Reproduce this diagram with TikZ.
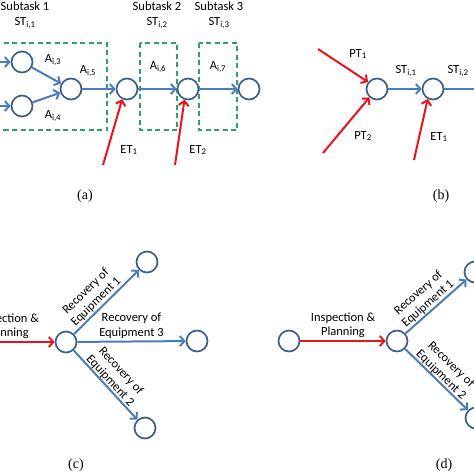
\documentclass[tikz,border=0pt]{standalone}
\usepackage{fontspec}
\setmainfont{Carlito}
\newfontfamily\capfont{Liberation Serif}
\usetikzlibrary{arrows.meta}
\definecolor{cdark}{HTML}{3B5E8C}
\definecolor{cblue}{HTML}{4A7EBB}
\definecolor{cred}{HTML}{E8141B}
\definecolor{cgreen}{HTML}{2EA06A}
\tikzset{
  circ/.style={circle, draw=cdark, line width=1.7pt, minimum size=21pt, inner sep=0pt, fill=white},
  barrow/.style={draw=cblue, line width=2pt, -{Straight Barb[length=4.5pt,width=10pt]}},
  rarrow/.style={draw=cred, line width=2pt, -{Straight Barb[length=4.5pt,width=10pt]}},
  bline/.style={draw=cblue, line width=2pt},
  dbox/.style={draw=cgreen, line width=1.4pt, dash pattern=on 5pt off 3.5pt},
  lbl/.style={font=\fontsize{12.5}{14.5}\selectfont, inner sep=1.5pt},
  captxt/.style={font=\capfont\fontsize{14}{16}\selectfont, inner sep=0pt}
}
\begin{document}
\begin{tikzpicture}[x=1pt,y=-1pt]
\useasboundingbox (0,0) rectangle (474,474);
% ---------- (a) ----------
\draw[dbox] (-20,43) rectangle (107,130);
\draw[dbox] (140,43) rectangle (177,130);
\draw[dbox] (199,43) rectangle (237,130);
\node[circ] (a1) at (22,62) {};
\node[circ] (a2) at (22,106) {};
\node[circ] (a3) at (71,89) {};
\node[circ] (a4) at (127,89) {};
\node[circ] (a5) at (188,89) {};
\node[circ] (a6) at (249,89) {};
\coordinate (ain1) at (-20,62);
\coordinate (ain2) at (-20,106);
\draw[barrow] (ain1) -- (a1);
\draw[barrow] (ain2) -- (a2);
\draw[barrow] (a1) -- (a3);
\draw[barrow] (a2) -- (a3);
\draw[barrow] (a3) -- (a4);
\draw[barrow] (a4) -- (a5);
\draw[barrow] (a5) -- (a6);
\coordinate (et1) at (103,165);
\coordinate (et2) at (175,165);
\draw[rarrow] (et1) -- (a4.245);
\draw[rarrow] (et2) -- (a5.252);
\node[lbl] (st1) at (25,6) {Subtask 1};
\node[lbl] (st1b) at (25,23) {ST\textsubscript{i,1}};
\node[lbl] (st2) at (157,6) {Subtask 2};
\node[lbl] (st2b) at (157,23) {ST\textsubscript{i,2}};
\node[lbl] (st3) at (219,6) {Subtask 3};
\node[lbl] (st3b) at (219,23) {ST\textsubscript{i,3}};
\node[lbl] (la3) at (53,60) {A\textsubscript{i,3}};
\node[lbl] (la4) at (53,116) {A\textsubscript{i,4}};
\node[lbl] (la5) at (88,71) {A\textsubscript{i,5}};
\node[lbl] (la6) at (158,67) {A\textsubscript{i,6}};
\node[lbl] (la7) at (218,67) {A\textsubscript{i,7}};
\node[lbl] (let1) at (129,150) {ET\textsubscript{1}};
\node[lbl] (let2) at (198,150) {ET\textsubscript{2}};
\node[captxt] (capa) at (85,196) {(a)};
% ---------- (b) ----------
\node[circ] (b1) at (377,89) {};
\node[circ] (b2) at (433,89) {};
\coordinate (bend) at (490,89);
\coordinate (pt1) at (318,49);
\coordinate (pt2) at (323,153);
\coordinate (bet1) at (414,160);
\draw[barrow] (b1) -- (b2);
\draw[bline] (b2) -- (bend);
\draw[rarrow] (pt1) -- (b1.142);
\draw[rarrow] (pt2) -- (b1.228);
\draw[rarrow] (bet1) -- (b2.242);
\node[lbl] (lpt1) at (358,54) {PT\textsubscript{1}};
\node[lbl] (lpt2) at (363,136) {PT\textsubscript{2}};
\node[lbl] (lbst1) at (406,71) {ST\textsubscript{i,1}};
\node[lbl] (lbst2) at (458,71) {ST\textsubscript{i,2}};
\node[lbl] (lbet1) at (439,137) {ET\textsubscript{1}};
\node[captxt] (capb) at (441,196) {(b)};
% ---------- (c) ----------
\node[circ] (c0) at (66,342) {};
\node[circ] (ct) at (147,262) {};
\node[circ] (cr) at (197,341) {};
\node[circ] (cb) at (145,428) {};
\coordinate (cin) at (-41,342);
\draw[rarrow] (cin) -- node[lbl, above, align=center, inner sep=2pt] {Inspection \&\\Planning} (c0);
\draw[barrow] (c0) -- node[lbl, sloped, above, align=center, pos=0.42, inner sep=1pt] {Recovery of\\Equipment 1} (ct);
\draw[barrow] (c0) -- node[lbl, above, align=center, inner sep=2pt] {Recovery of\\Equipment 3} (cr);
\draw[barrow] (c0) -- node[lbl, sloped, above, align=center, pos=0.5, inner sep=0pt] {Recovery of\\Equipment 2} (cb);
\node[captxt] (capc) at (76,465) {(c)};
% ---------- (d) ----------
\node[circ] (dl) at (289,341) {};
\node[circ] (d0) at (397,341) {};
\node[circ] (dt) at (475,272) {};
\node[circ] (db) at (476,418) {};
\draw[rarrow] (dl) -- node[lbl, above, align=center, inner sep=2pt] {Inspection \&\\Planning} (d0);
\draw[barrow] (d0) -- node[lbl, sloped, above, align=center, pos=0.45, inner sep=1pt] {Recovery of\\Equipment 1} (dt);
\draw[barrow] (d0) -- node[lbl, sloped, above, align=center, pos=0.5, inner sep=0pt] {Recovery of\\Equipment 2} (db);
\node[captxt] (capd) at (444,465) {(d)};
\end{tikzpicture}
\end{document}
